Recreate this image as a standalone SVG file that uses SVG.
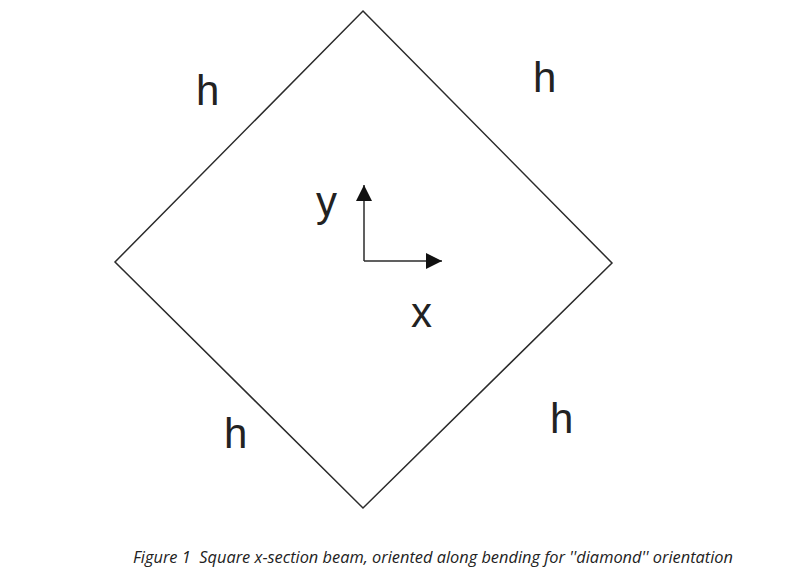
<svg xmlns="http://www.w3.org/2000/svg" width="792" height="580" viewBox="0 0 792 580">
<style>
.edge{fill:none;stroke:#2b2b2b;stroke-width:1.5}
.lbl{font-family:"Liberation Sans",Arial,sans-serif;font-size:42px;fill:#222}
.cap{font-family:"Open Sans","Liberation Sans",sans-serif;font-style:italic;font-size:17px;fill:#222}
</style>
<defs>
<marker id="ah" viewBox="0 0 10 10" refX="10" refY="5" markerWidth="24" markerHeight="16" markerUnits="userSpaceOnUse" orient="auto">
<path d="M0,0 L10,5 L0,10 Z" fill="#111"/>
</marker>
</defs>
<rect width="792" height="580" fill="#fff"/>
<g id="diamond">
<polygon class="edge" points="363,11 612,263 363,508 115,262"/>
</g>
<g id="connectors">
<path class="edge" d="M364,261 L364,185" stroke="#111" marker-end="url(#ah)"/>
<path class="edge" d="M364,261 L442,261" stroke="#111" marker-end="url(#ah)"/>
</g>
<g id="labels">
<text class="lbl" x="196" y="105">h</text>
<text class="lbl" x="533" y="92">h</text>
<text class="lbl" x="224" y="448">h</text>
<text class="lbl" x="550" y="433">h</text>
<text class="lbl" x="316" y="216">y</text>
<text class="lbl" x="411" y="327">x</text>
</g>
<text class="cap" x="133" y="563" xml:space="preserve" textLength="600" lengthAdjust="spacingAndGlyphs">Figure 1  Square x-section beam, oriented along bending for ''diamond'' orientation</text>
</svg>
